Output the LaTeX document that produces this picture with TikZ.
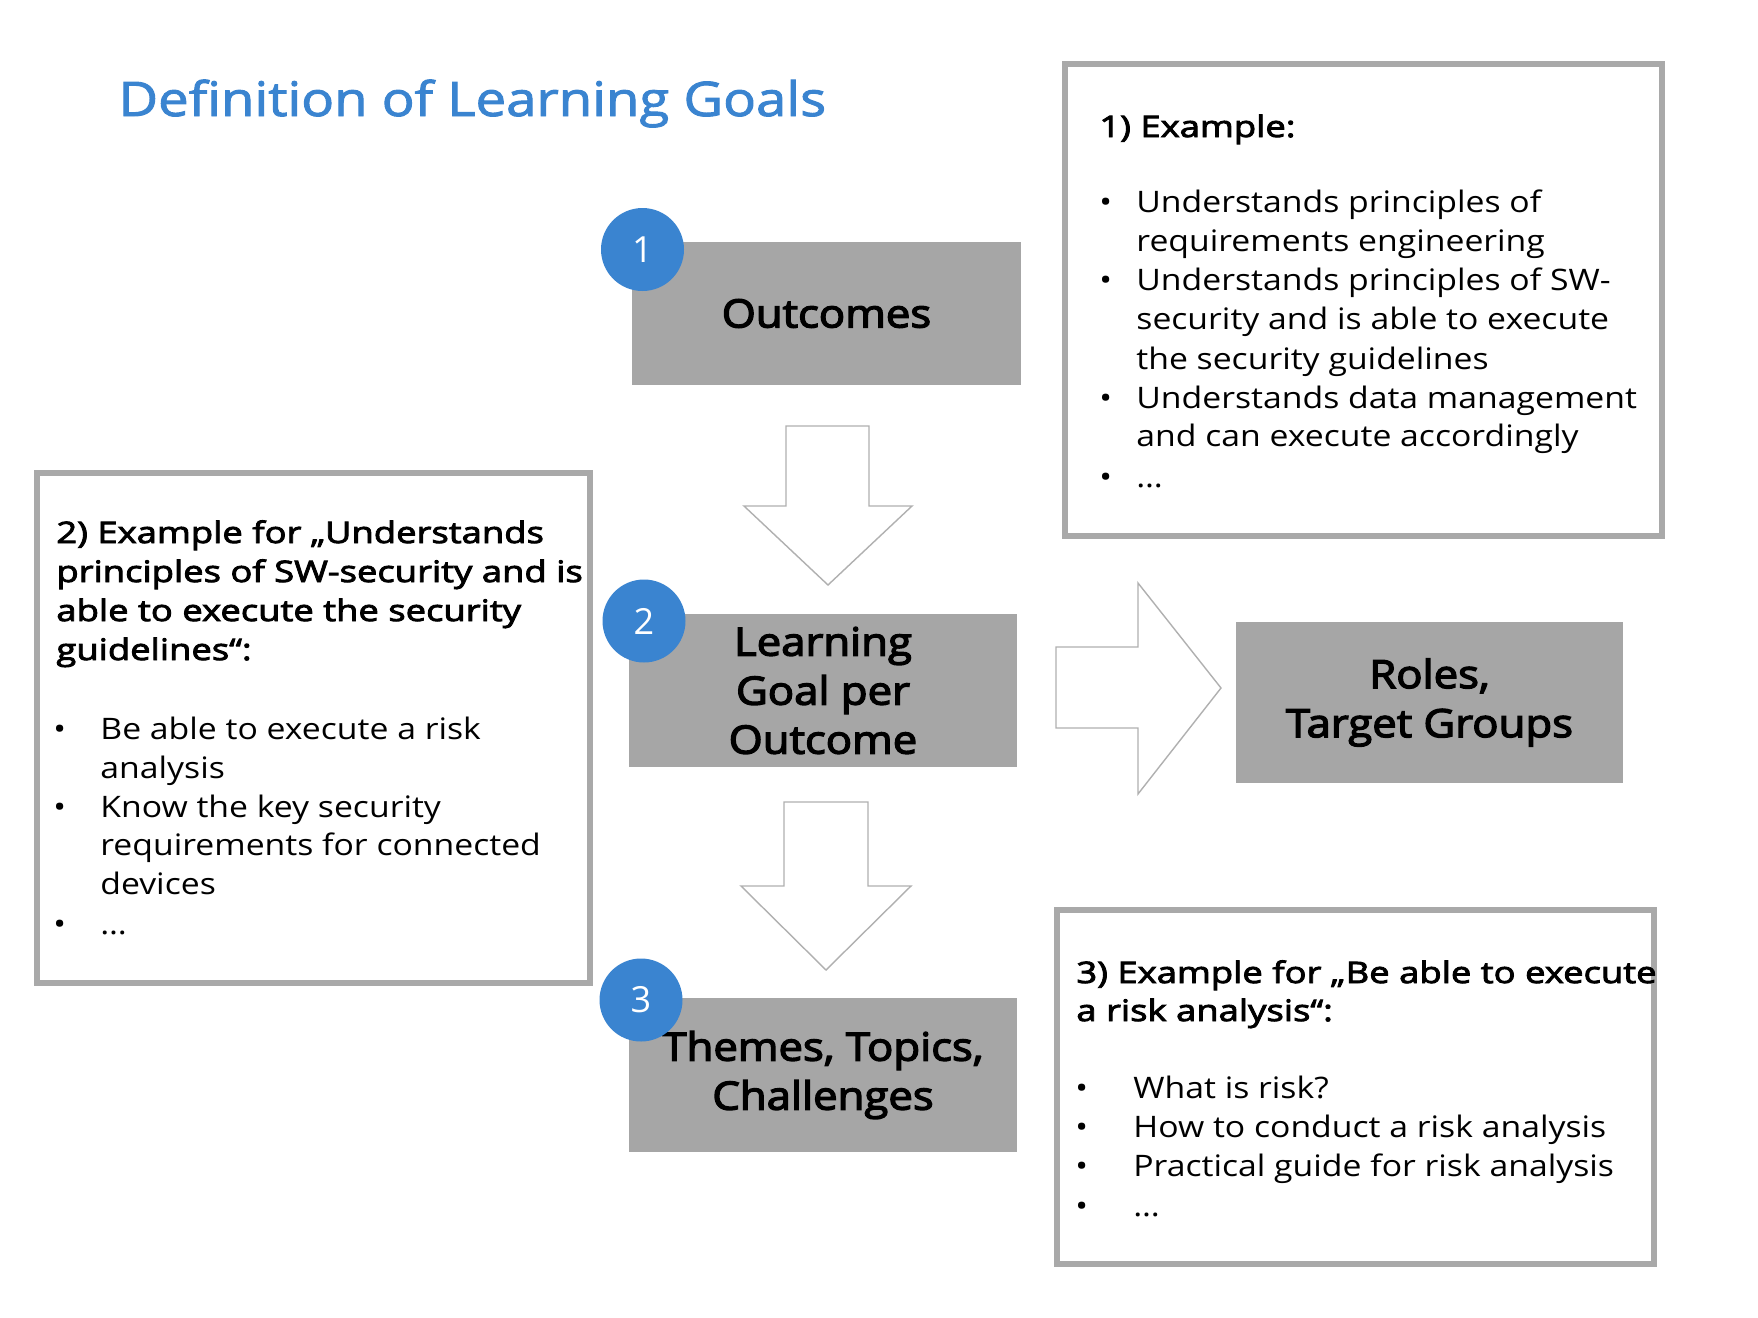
\documentclass[tikz,border=0pt]{standalone}
\usepackage{fontspec}
\setmainfont[FakeStretch=1.14]{Open Sans}
\newfontfamily\labelfont[FakeStretch=1.12,FakeBold=3.5]{Open Sans}
\newfontfamily\headfont[FakeStretch=1.23,FakeBold=3]{Open Sans}
\newfontfamily\numfont{Open Sans}
\newfontfamily\titlefont[FakeStretch=1.145,FakeBold=2]{Open Sans}
\definecolor{tblue}{HTML}{3A84D0}
\definecolor{boxgray}{HTML}{A6A6A6}
\definecolor{framegray}{HTML}{A9A9A9}
\definecolor{arrowgray}{HTML}{B0B0B0}
\tikzset{
  body/.style={anchor=base west, inner sep=0pt, font=\fontsize{14.8}{18}\selectfont},
  headtxt/.style={anchor=base west, inner sep=0pt, font=\headfont\fontsize{14.8}{18}\selectfont},
  gbox/.style={fill=boxgray, inner sep=0pt, align=center, font=\labelfont\fontsize{19.5}{24.5}\selectfont},
  frame/.style={draw=framegray, line width=3pt},
  blockarrow/.style={draw=arrowgray, line width=0.7pt, fill=white},
  numcirc/.style={circle, fill=tblue, text=white, inner sep=0pt, minimum size=41.5pt, font=\numfont\fontsize{18}{18}\selectfont},
}
\begin{document}
\begin{tikzpicture}[x=0.5pt,y=-0.5pt]
\useasboundingbox (0,0) rectangle (1758,1318);
\fill[white] (0,0) rectangle (1758,1318);
% title
\node[anchor=base west, inner sep=0pt, text=tblue, font=\titlefont\fontsize{23.8}{28}\selectfont] (title) at (118,116) {Definition of Learning Goals};
% frames
\draw[frame] (1065,64) rectangle (1662,536);
\draw[frame] (37,473) rectangle (590,983);
\draw[frame] (1057,910) rectangle (1654,1264);
% gray boxes
\node[gbox, minimum width=194.5pt, minimum height=71.5pt] (out) at (826.5,313.5) {Outcomes};
\node[gbox, minimum width=194pt, minimum height=76.5pt] (lgo) at (823,690.5) {Learning\\Goal per\\Outcome};
\node[gbox, minimum width=194pt, minimum height=77pt] (ttc) at (823,1075) {Themes, Topics,\\Challenges};
\node[gbox, minimum width=193.5pt, minimum height=80.5pt] (rtg) at (1429.5,702.5) {Roles,\\Target Groups};
% circles
\node[numcirc] (c1) at (642.5,249.5) {1};
\node[numcirc] (c2) at (644,621) {2};
\node[numcirc] (c3) at (641,1000) {3};
% block arrows
\draw[blockarrow] (786,426) -- (869,426) -- (869,506) -- (912,506) -- (828,585) -- (744,506) -- (786,506) -- cycle;
\draw[blockarrow] (784,802) -- (868,802) -- (868,886) -- (911,886) -- (826,970) -- (741,886) -- (784,886) -- cycle;
\draw[blockarrow] (1056,647) -- (1138,647) -- (1138,583) -- (1221,688) -- (1138,794) -- (1138,728) -- (1056,728) -- cycle;
% box 1 text
\node[headtxt] (h1) at (1099,137) {1) Example:};
\node[body] (b1a) at (1099,212) {•};
\node[body] (t1a) at (1136,212) {Understands principles of};
\node[body] (t1b) at (1136,251) {requirements engineering};
\node[body] (b1b) at (1099,290) {•};
\node[body] (t1c) at (1136,290) {Understands principles of SW-};
\node[body] (t1d) at (1136,329) {security and is able to execute};
\node[body] (t1e) at (1136,369) {the security guidelines};
\node[body] (b1c) at (1099,408) {•};
\node[body] (t1f) at (1136,408) {Understands data management};
\node[body] (t1g) at (1136,446) {and can execute accordingly};
\node[body] (b1d) at (1099,487) {•};
\node[body] (t1h) at (1136,487) {…};
% box 2 text
\node[headtxt] (h2a) at (56,543) {2) Example for „Understands};
\node[headtxt] (h2b) at (56,582) {principles of SW-security and is};
\node[headtxt] (h2c) at (56,621) {able to execute the security};
\node[headtxt] (h2d) at (56,660) {guidelines“:};
\node[body] (b2a) at (53,739) {•};
\node[body] (t2a) at (100,739) {Be able to execute a risk};
\node[body] (t2b) at (100,778) {analysis};
\node[body] (b2b) at (53,817) {•};
\node[body] (t2c) at (100,817) {Know the key security};
\node[body] (t2d) at (100,855) {requirements for connected};
\node[body] (t2e) at (100,894) {devices};
\node[body] (b2c) at (53,934) {•};
\node[body] (t2f) at (100,934) {…};
% box 3 text
\node[headtxt] (h3a) at (1076,983) {3) Example for „Be able to execute};
\node[headtxt] (h3b) at (1076,1021) {a risk analysis“:};
\node[body] (b3a) at (1075,1098) {•};
\node[body] (t3a) at (1133,1098) {What is risk?};
\node[body] (b3b) at (1075,1137) {•};
\node[body] (t3b) at (1133,1137) {How to conduct a risk analysis};
\node[body] (b3c) at (1075,1176) {•};
\node[body] (t3c) at (1133,1176) {Practical guide for risk analysis};
\node[body] (b3d) at (1075,1216) {•};
\node[body] (t3d) at (1133,1216) {…};
\end{tikzpicture}
\end{document}
